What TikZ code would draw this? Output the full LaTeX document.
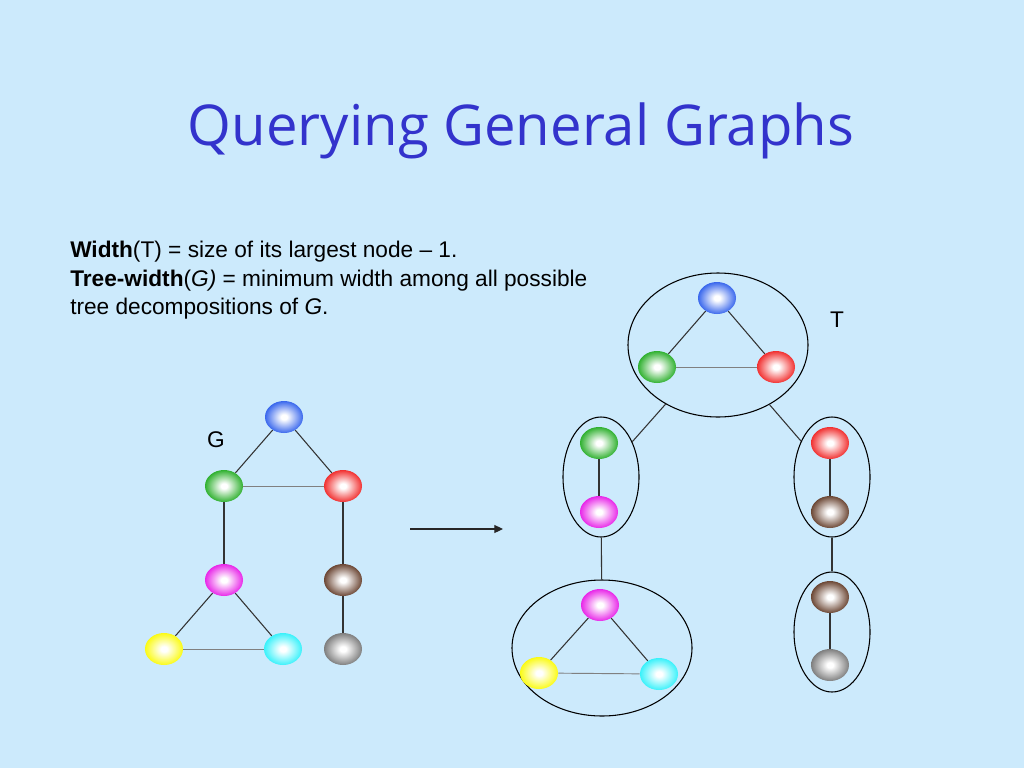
\documentclass[tikz,border=0pt]{standalone}
\usepackage{fontspec}
\setmainfont{Liberation Sans}
\newfontfamily\titlefont{Open Sans}
\usetikzlibrary{arrows.meta,shapes.geometric}

\definecolor{slidebg}{RGB}{204,234,252}
\definecolor{titleblue}{RGB}{51,51,204}
\definecolor{vblue}{RGB}{40,90,235}
\definecolor{vgreen}{RGB}{30,170,30}
\definecolor{vred}{RGB}{240,30,30}
\definecolor{vmagenta}{RGB}{230,20,230}
\definecolor{vbrown}{RGB}{95,55,35}
\definecolor{vyellow}{RGB}{250,250,0}
\definecolor{vcyan}{RGB}{40,240,250}
\definecolor{vgray}{RGB}{115,115,115}
\colorlet{vtxcol}{vblue}
\pgfdeclareradialshading[vtxcol]{vball}{\pgfpoint{0bp}{0bp}}{%
  color(0bp)=(white); color(4bp)=(white); color(27bp)=(vtxcol);
  color(50bp)=(vtxcol)}

\begin{document}
\begin{tikzpicture}[x=0.75pt, y=-0.75pt, >=Latex,
  vtx/.style={ellipse, minimum width=28.5pt, minimum height=24pt,
    inner sep=0pt, /utils/exec={\colorlet{vtxcol}{#1}}, shading=vball},
  bag/.style={ellipse, draw=black, line width=0.8pt, inner sep=0pt},
  edge/.style={draw=black!80, line width=0.8pt},
  flat/.style={draw=black!50, line width=0.7pt},
  lab/.style={font=\fontsize{17}{20}\selectfont}]
  \useasboundingbox (0,0) rectangle (1024,768);
  \fill[slidebg] (0,0) rectangle (1024,768);

  \node[font=\titlefont\fontsize{42.2}{50}\selectfont, text=titleblue]
    (title) at (521,131) {Querying General Graphs};
  \node[align=left, anchor=north west, inner sep=0pt,
    font=\fontsize{17}{21.4}\selectfont] (defs) at (70,241)
    {\textbf{Width}(T) = size of its largest node -- 1.\\
     \textbf{Tree-width}(\textit{G)} = minimum width among all possible\\
     tree decompositions of \textit{G}.};

  % graph G
  \node[lab] (glab) at (216,440) {G};
  \foreach \n/\x/\y/\c in {gb/284/417/vblue, gg/224/486/vgreen,
    gr/343/486/vred, gm/224/580/vmagenta, gn/343/580/vbrown,
    gy/164/649/vyellow, gc/283/649/vcyan, gk/343/649/vgray}
    \node[vtx=\c] (\n) at (\x,\y) {};
  \draw[edge] (gb) -- (gg);
  \draw[edge] (gb) -- (gr);
  \draw[flat] (gg) -- (gr);
  \draw[edge] (gg) -- (gm);
  \draw[edge] (gr) -- (gn);
  \draw[edge] (gm) -- (gy);
  \draw[edge] (gm) -- (gc);
  \draw[flat] (gy) -- (gc);
  \draw[edge] (gn) -- (gk);

  % arrow
  \coordinate (arrs) at (410,529);
  \coordinate (arre) at (503,529);
  \draw[-{Triangle[length=6.5pt,width=6pt]}, draw=black!85, line width=0.8pt]
    (arrs) -- (arre);

  % tree decomposition T
  \node[lab] (tlab) at (837,320) {T};
  \node[bag, minimum width=135pt, minimum height=108pt] (btop) at (718,345) {};
  \node[bag, minimum width=57pt, minimum height=90pt] (bleft) at (601,477) {};
  \node[bag, minimum width=57pt, minimum height=90pt] (bright) at (832,477) {};
  \node[bag, minimum width=135pt, minimum height=102pt] (blow) at (602,648) {};
  \node[bag, minimum width=57pt, minimum height=90pt] (bend) at (832,632) {};
  \draw[edge] (btop) -- (bleft);
  \draw[edge] (btop) -- (bright);
  \draw[edge] (bleft) -- (blow);
  \draw[edge] (bright) -- (bend);

  \foreach \n/\x/\y/\c in {tb/717/298/vblue, tg/657/367/vgreen,
    tr/776/367/vred, lg/599/443/vgreen, lm/599/512/vmagenta,
    rr/830/443/vred, rn/830/512/vbrown, wm/600/605/vmagenta,
    wy/539/673/vyellow, wc/659/674/vcyan, en/830/597/vbrown,
    ek/830/665/vgray}
    \node[vtx=\c] (\n) at (\x,\y) {};
  \draw[edge] (tb) -- (tg);
  \draw[edge] (tb) -- (tr);
  \draw[flat] (tg) -- (tr);
  \draw[edge] (lg) -- (lm);
  \draw[edge] (rr) -- (rn);
  \draw[edge] (wm) -- (wy);
  \draw[edge] (wm) -- (wc);
  \draw[flat] (wy) -- (wc);
  \draw[edge] (en) -- (ek);
\end{tikzpicture}
\end{document}
